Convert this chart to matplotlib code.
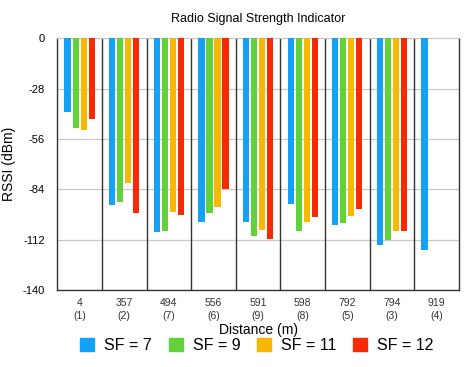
import numpy as np
import matplotlib
matplotlib.use('Agg')
import matplotlib.pyplot as plt
from matplotlib.patches import Patch

plt.rcParams['font.family'] = ['Liberation Sans', 'DejaVu Sans']
plt.rcParams['axes.unicode_minus'] = False

# data
distances = ['4\n(1)', '357\n(2)', '494\n(7)', '556\n(6)', '591\n(9)',
             '598\n(8)', '792\n(5)', '794\n(3)', '919\n(4)']
sf7 = [-41, -93, -108, -102, -102, -92, -104, -115, -118]
sf9 = [-50, -91, -107, -97, -110, -107, -103, -112, np.nan]
sf11 = [-51, -80.5, -96.5, -94, -106.5, -102, -99, -107.5, np.nan]
sf12 = [-45, -97, -98.5, -84, -111.5, -99.5, -95, -107, np.nan]
series = [sf7, sf9, sf11, sf12]
labels = ['SF = 7', 'SF = 9', 'SF = 11', 'SF = 12']
colors = ['#14a2f7', '#62d23b', '#f8b700', '#f82a04']

fig = plt.figure(figsize=(4.74, 3.67), dpi=100)
ax = fig.add_axes([0.121, 0.21, 0.847, 0.686])

x = np.arange(len(distances))
w = 0.14
step = 0.18
for i, (vals, c) in enumerate(zip(series, colors)):
    ax.bar(x + (i - 1.5) * step, vals, width=w, color=c, zorder=3)

ax.set_xlim(-0.5, len(distances) - 0.5)
ax.set_ylim(-140, 0)
ax.set_yticks([0, -28, -56, -84, -112, -140])
ax.yaxis.grid(True, color='#c8c8c8', lw=0.9, zorder=0)
for b in np.arange(0.5, len(distances) - 0.5):
    ax.axvline(b, color='#333333', lw=1.0, zorder=2)

ax.set_xticks(x)
ax.set_xticklabels(distances, fontsize=7.5, color='#333333', linespacing=1.4)
ax.tick_params(axis='y', labelsize=8, length=0, pad=9)
ax.tick_params(axis='x', length=0, pad=6)
for s in ['left', 'bottom', 'right']:
    ax.spines[s].set_color('#333333')
    ax.spines[s].set_linewidth(1.0)
ax.spines['top'].set_color('#c8c8c8')

ax.set_title('Radio Signal Strength Indicator', fontsize=9, pad=12)
ax.set_ylabel('RSSI (dBm)', fontsize=10, labelpad=5)
fig.text(0.545, 0.09, 'Distance (m)', ha='center', fontsize=10)

handles = [Patch(color=c) for c in colors]
fig.legend(handles, labels, loc='center', bbox_to_anchor=(0.542, 0.058), ncol=4,
           frameon=False, fontsize=11.5, handlelength=0.88, handleheight=0.88,
           handletextpad=0.62, columnspacing=1.06, borderpad=0)

fig.savefig('out.png', dpi=100)
